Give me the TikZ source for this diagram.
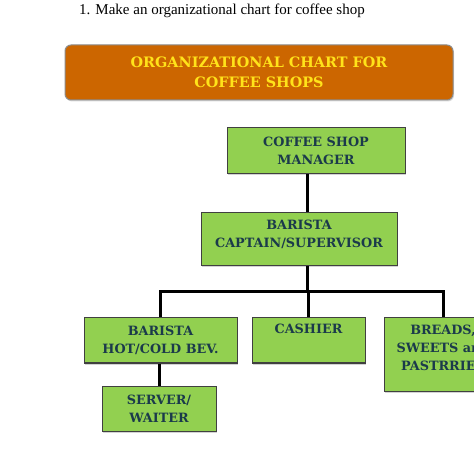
\documentclass[tikz,border=0pt]{standalone}
\usepackage{fontspec}
\setmainfont{DejaVu Serif}
\newfontfamily\taskfont{Liberation Serif}
\usetikzlibrary{shadows}
\definecolor{chartorange}{HTML}{CC6600}
\definecolor{chartyellow}{HTML}{FFE31A}
\definecolor{chartgreen}{HTML}{92D050}
\definecolor{chartnavy}{HTML}{1B3A4B}
\begin{document}
\begin{tikzpicture}[x=1pt, y=-1pt, every node/.style={font=\fontsize{12.8}{18}\selectfont\bfseries, text=chartnavy},
	box/.style={draw=black!75, line width=1pt, fill=chartgreen, align=center, inner sep=0pt, drop shadow={shadow xshift=1pt, shadow yshift=-1.5pt, opacity=.35}},
	link/.style={line width=3pt}]
	\clip (0,0) rectangle (474,470);
	\node[font=\taskfont\fontsize{15}{17}\selectfont, text=black] (task) at (222,10.5) {1. Make an organizational chart for coffee shop};
	\node[draw=black!45, line width=1pt, rounded corners=6pt, fill=chartorange, minimum width=388, minimum height=55, align=center, text=chartyellow, font=\fontsize{14.4}{20}\selectfont\bfseries, drop shadow={shadow xshift=1pt, shadow yshift=-1.5pt, opacity=.3}] (title) at (259,72.5) {ORGANIZATIONAL CHART FOR\\COFFEE SHOPS};
	\node[box, minimum width=178, minimum height=46] (mgr) at (316,151) {COFFEE SHOP\\MANAGER};
	\node[box, minimum width=196, minimum height=53, text depth=12pt] (sup) at (299,239.5) {BARISTA\\CAPTAIN/SUPERVISOR};
	\node[box, minimum width=153, minimum height=45] (bar) at (160.5,340.5) {BARISTA\\HOT/COLD BEV.};
	\node[box, minimum width=113, minimum height=45, text depth=24pt] (cash) at (308.5,340.5) {CASHIER};
	\node[box, minimum width=118, minimum height=73, text depth=14pt] (bread) at (443,354.5) {BREADS,\\SWEETS and\\PASTRRIES};
	\node[box, minimum width=114, minimum height=45] (srv) at (159,408.5) {SERVER/\\WAITER};
	\coordinate (bus) at (307,292);
	\draw[link] (bus |- mgr.south) -- (bus |- sup.north);
	\draw[link] (bus |- sup.south) -- (bus);
	\draw[link] (bus) -| (bar.north);
	\draw[link] (bus) -| (cash.north);
	\draw[link] (bus) -| (bread.north);
	\draw[link] (srv.north |- bar.south) -- (srv.north);
\end{tikzpicture}
\end{document}
